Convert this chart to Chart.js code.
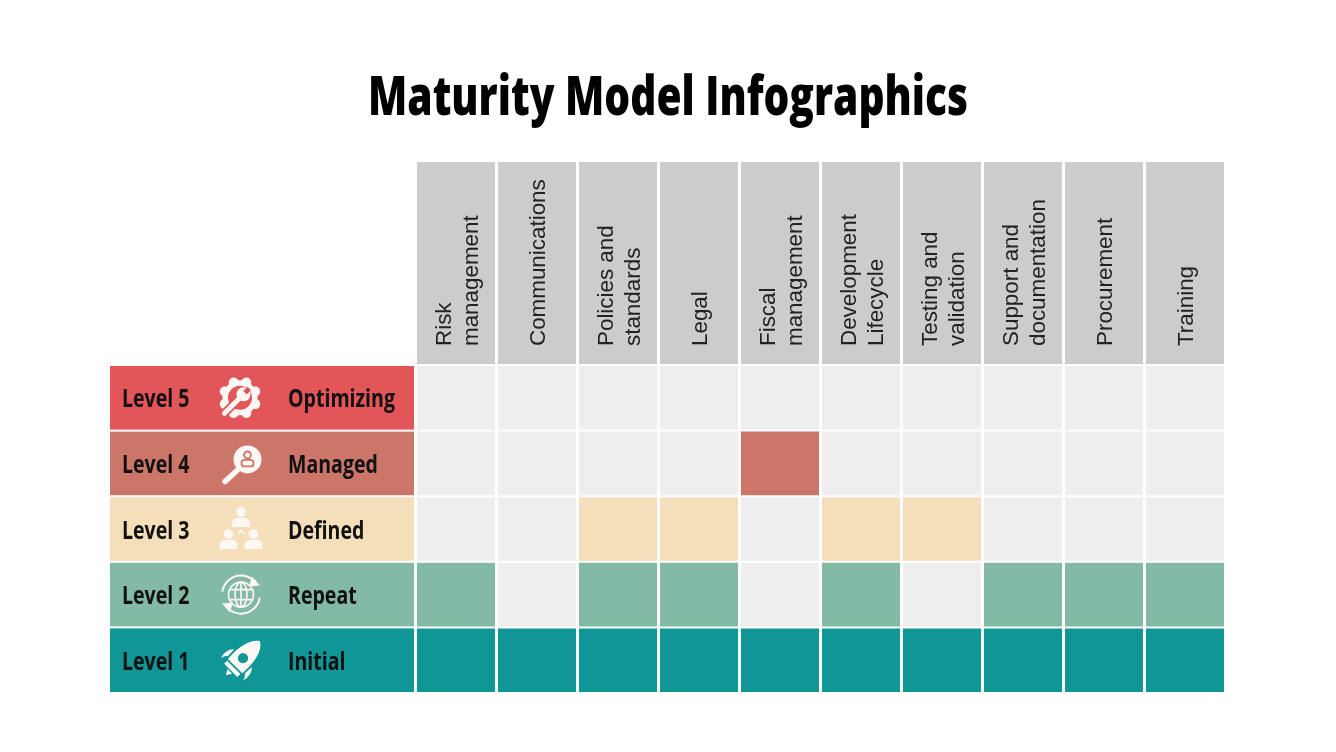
<!DOCTYPE html>
<html lang="en">
<head>
<meta charset="UTF-8">
<title>Maturity Model Infographics</title>
<style>
  html, body { margin: 0; padding: 0; background: #fff; }
  canvas { display: block; }
</style>
<script src="https://cdn.jsdelivr.net/npm/chart.js"></script>
</head>
<body>
<canvas id="chart" width="1336" height="752"></canvas>
<script>
const chartTitle = 'Maturity Model Infographics';
const categories = [
  ['Risk', 'management'], ['Communications'], ['Policies and', 'standards'], ['Legal'],
  ['Fiscal', 'management'], ['Development', 'Lifecycle'], ['Testing and', 'validation'],
  ['Support and', 'documentation'], ['Procurement'], ['Training']
];
// bottom row first, same order as the y scale
const levelNames = ['Level 1', 'Level 2', 'Level 3', 'Level 4', 'Level 5'];
const stageNames = ['Initial', 'Repeat', 'Defined', 'Managed', 'Optimizing'];
const levelColors = ['#0f9696', '#83baa5', '#f5deba', '#cc766a', '#e25559'];
const level1 = [1, 1, 1, 1, 1, 1, 1, 1, 1, 1];
const level2 = [1, 0, 1, 1, 0, 1, 0, 1, 1, 1];
const level3 = [0, 0, 1, 1, 0, 1, 1, 0, 0, 0];
const level4 = [0, 0, 0, 0, 1, 0, 0, 0, 0, 0];
const level5 = [0, 0, 0, 0, 0, 0, 0, 0, 0, 0];
const levelFlags = [level1, level2, level3, level4, level5];
const headerSpan = 3.11;

const EMPTY = '#eeeeee';
const HEADER = '#cccccc';
const ICON = '#fdf8f4';

const cellDatasets = levelFlags.map((flags, i) => ({
  label: levelNames[i],
  data: flags.map(() => 1),
  backgroundColor: flags.map(f => f ? levelColors[i] : EMPTY)
}));
const headerDataset = {
  label: 'Header',
  data: categories.map(() => headerSpan),
  backgroundColor: HEADER
};

function person(ctx, x, y, s) {
  ctx.beginPath();
  ctx.arc(x, y - s * 0.9, s * 0.8, 0, Math.PI * 2);
  ctx.fill();
  ctx.beginPath();
  ctx.moveTo(x - s * 1.5, y + s * 1.6);
  ctx.lineTo(x - s * 1.5, y + s * 0.9);
  ctx.quadraticCurveTo(x - s * 1.4, y + s * 0.1, x - s * 0.5, y + s * 0.05);
  ctx.lineTo(x + s * 0.5, y + s * 0.05);
  ctx.quadraticCurveTo(x + s * 1.4, y + s * 0.1, x + s * 1.5, y + s * 0.9);
  ctx.lineTo(x + s * 1.5, y + s * 1.6);
  ctx.closePath();
  ctx.fill();
}

// icons are drawn around (0,0) in a box of about 44px
const icons = [
  function rocket(ctx, bg) {
    ctx.rotate(Math.PI / 4);
    ctx.scale(0.93, 0.93);
    ctx.beginPath();
    ctx.moveTo(0, -29);
    ctx.bezierCurveTo(9, -23, 12, -10, 11, 9);
    ctx.lineTo(-11, 9);
    ctx.bezierCurveTo(-12, -10, -9, -23, 0, -29);
    ctx.fill();
    ctx.fillRect(-10, 11, 20, 4.5);
    ctx.beginPath();
    ctx.moveTo(-13.5, -3); ctx.quadraticCurveTo(-20, 3, -17, 14); ctx.quadraticCurveTo(-16, 9, -13, 7);
    ctx.closePath(); ctx.fill();
    ctx.beginPath();
    ctx.moveTo(13.5, -3); ctx.quadraticCurveTo(20, 3, 17, 14); ctx.quadraticCurveTo(16, 9, 13, 7);
    ctx.closePath(); ctx.fill();
    ctx.beginPath();
    ctx.moveTo(-3.5, 17); ctx.lineTo(3.5, 17); ctx.lineTo(0, 23); ctx.closePath(); ctx.fill();
    ctx.fillStyle = bg;
    ctx.beginPath();
    ctx.arc(0, -3, 5.5, 0, Math.PI * 2);
    ctx.fill();
  },
  function globe(ctx) {
    ctx.lineWidth = 2;
    ctx.beginPath(); ctx.arc(0, 0, 19, -Math.PI * 0.95, -Math.PI * 0.2); ctx.stroke();
    ctx.beginPath(); ctx.arc(0, 0, 19, Math.PI * 0.05, Math.PI * 0.8); ctx.stroke();
    ctx.beginPath(); ctx.moveTo(11, -18); ctx.lineTo(19, -9); ctx.lineTo(8, -8); ctx.closePath(); ctx.fill();
    ctx.beginPath(); ctx.moveTo(-11, 18); ctx.lineTo(-19, 9); ctx.lineTo(-8, 8); ctx.closePath(); ctx.fill();
    ctx.lineWidth = 1.6;
    ctx.beginPath(); ctx.arc(0, 0, 12.5, 0, Math.PI * 2); ctx.stroke();
    ctx.beginPath(); ctx.ellipse(0, 0, 6, 12.5, 0, 0, Math.PI * 2); ctx.stroke();
    ctx.beginPath();
    ctx.moveTo(0, -12.5); ctx.lineTo(0, 12.5);
    ctx.moveTo(-11, -5); ctx.lineTo(11, -5);
    ctx.moveTo(-11, 5); ctx.lineTo(11, 5);
    ctx.stroke();
  },
  function team(ctx) {
    person(ctx, 0, -11.5, 6);
    person(ctx, -12.5, 10.5, 6);
    person(ctx, 12.5, 10.5, 6);
    ctx.lineWidth = 1.3;
    ctx.beginPath();
    ctx.moveTo(-3, 5); ctx.lineTo(0, 1); ctx.lineTo(3, 5);
    ctx.stroke();
  },
  function magnifier(ctx, bg) {
    ctx.beginPath(); ctx.arc(6.5, -4, 14, 0, Math.PI * 2); ctx.fill();
    ctx.lineWidth = 5.5;
    ctx.lineCap = 'round';
    ctx.beginPath(); ctx.moveTo(-4, 7); ctx.lineTo(-16, 18); ctx.stroke();
    ctx.lineCap = 'butt';
    ctx.strokeStyle = bg;
    ctx.lineWidth = 1.8;
    ctx.beginPath(); ctx.arc(6.5, -8.5, 3.4, 0, Math.PI * 2); ctx.stroke();
    ctx.beginPath();
    ctx.roundRect(0.5, -3.5, 12, 6.5, 3);
    ctx.stroke();
  },
  function gearWrench(ctx, bg) {
    for (let i = 0; i < 8; i++) {
      ctx.beginPath();
      const a = i * Math.PI / 4 + Math.PI / 8;
      ctx.arc(Math.cos(a) * 16.5, Math.sin(a) * 16.5, 5, 0, Math.PI * 2);
      ctx.fill();
    }
    ctx.beginPath(); ctx.arc(0, 0, 17.5, 0, Math.PI * 2); ctx.fill();
    ctx.fillStyle = bg;
    ctx.beginPath(); ctx.arc(0, 0, 12, 0, Math.PI * 2); ctx.fill();
    // wrench cuts through the ring at the lower left
    ctx.strokeStyle = bg;
    ctx.lineWidth = 8.5;
    ctx.beginPath(); ctx.moveTo(0, 0); ctx.lineTo(-15, 15); ctx.stroke();
    ctx.strokeStyle = ICON;
    ctx.fillStyle = ICON;
    ctx.lineCap = 'round';
    ctx.lineWidth = 5;
    ctx.beginPath(); ctx.moveTo(3, -3); ctx.lineTo(-15.5, 15.5); ctx.stroke();
    ctx.beginPath(); ctx.arc(3.5, -3.5, 7, 0, Math.PI * 2); ctx.fill();
    ctx.fillStyle = bg;
    ctx.save();
    ctx.translate(5, -5);
    ctx.rotate(Math.PI / 4);
    ctx.fillRect(-2.5, -6, 5, 6);
    ctx.restore();
  }
];

const LABEL_FONT = 'bold 25px "Open Sans", sans-serif';
const TITLE_FONT = '800 55px "Open Sans", sans-serif';

// no extra condensed face is installed, so squeeze a bold one
function squeezed(ctx, text, x, y, sx) {
  ctx.save();
  ctx.translate(x, y);
  ctx.scale(sx, 1);
  ctx.fillText(text, 0, 0);
  ctx.restore();
}

const gridLabels = {
  id: 'gridLabels',
  afterDatasetsDraw(chart) {
    const { ctx, scales } = chart;

    // row bands on the left, placed with the y scale
    levelNames.forEach((name, i) => {
      const top = scales.y.getPixelForValue(i + 1) + 1;
      const bottom = scales.y.getPixelForValue(i) - 1;
      const mid = (top + bottom) / 2;
      ctx.save();
      ctx.fillStyle = levelColors[i];
      ctx.fillRect(110, top, 304, bottom - top);
      ctx.fillStyle = '#111111';
      ctx.font = LABEL_FONT;
      ctx.textBaseline = 'alphabetic';
      ctx.textAlign = 'left';
      const sx = 107 / ctx.measureText('Optimizing').width;
      squeezed(ctx, name, 122, mid + 9.5, sx);
      squeezed(ctx, stageNames[i], 288, mid + 9.5, sx);
      ctx.restore();

      ctx.save();
      ctx.translate(i === 4 ? 240 : 241, mid);
      ctx.fillStyle = ICON;
      ctx.strokeStyle = ICON;
      icons[i](ctx, levelColors[i]);
      ctx.restore();
    });

    // column names, rotated, sitting on the bottom of the grey header
    categories.forEach((lines, i) => {
      const cx = scales.x.getPixelForValue(i) + 1;
      const base = scales.y.getPixelForValue(5) - 19;
      const pitch = 27;
      ctx.save();
      ctx.fillStyle = '#222222';
      ctx.font = '22.4px "Liberation Sans", Arial, sans-serif';
      ctx.textAlign = 'left';
      ctx.textBaseline = 'middle';
      lines.forEach((line, n) => {
        const x = cx + (n - (lines.length - 1) / 2) * pitch;
        ctx.save();
        ctx.translate(x, base);
        ctx.rotate(-Math.PI / 2);
        ctx.fillText(line, 0, 1);
        ctx.restore();
      });
      ctx.restore();
    });

    // title
    ctx.save();
    ctx.fillStyle = '#000000';
    ctx.font = TITLE_FONT;
    ctx.textAlign = 'center';
    ctx.textBaseline = 'alphabetic';
    const w = ctx.measureText(chartTitle).width;
    squeezed(ctx, chartTitle, 668, 115, 600 / w);
    ctx.restore();
  }
};

new Chart(document.getElementById('chart'), {
  type: 'bar',
  data: {
    labels: categories,
    datasets: [...cellDatasets, headerDataset]
  },
  options: {
    responsive: false,
    animation: false,
    devicePixelRatio: 1,
    layout: { padding: { left: 415.5, right: 110.5, top: 161, bottom: 59 } },
    datasets: {
      bar: {
        barPercentage: 78 / 81,
        categoryPercentage: 1,
        borderColor: '#ffffff',
        borderWidth: { top: 1, bottom: 1, left: 0, right: 0 },
        borderSkipped: false,
        inflateAmount: 0
      }
    },
    plugins: { legend: { display: false }, tooltip: { enabled: false } },
    scales: {
      x: { stacked: true, display: false },
      y: { stacked: true, display: false, min: 0, max: 5 + headerSpan }
    }
  },
  plugins: [gridLabels]
});
</script>
</body>
</html>
